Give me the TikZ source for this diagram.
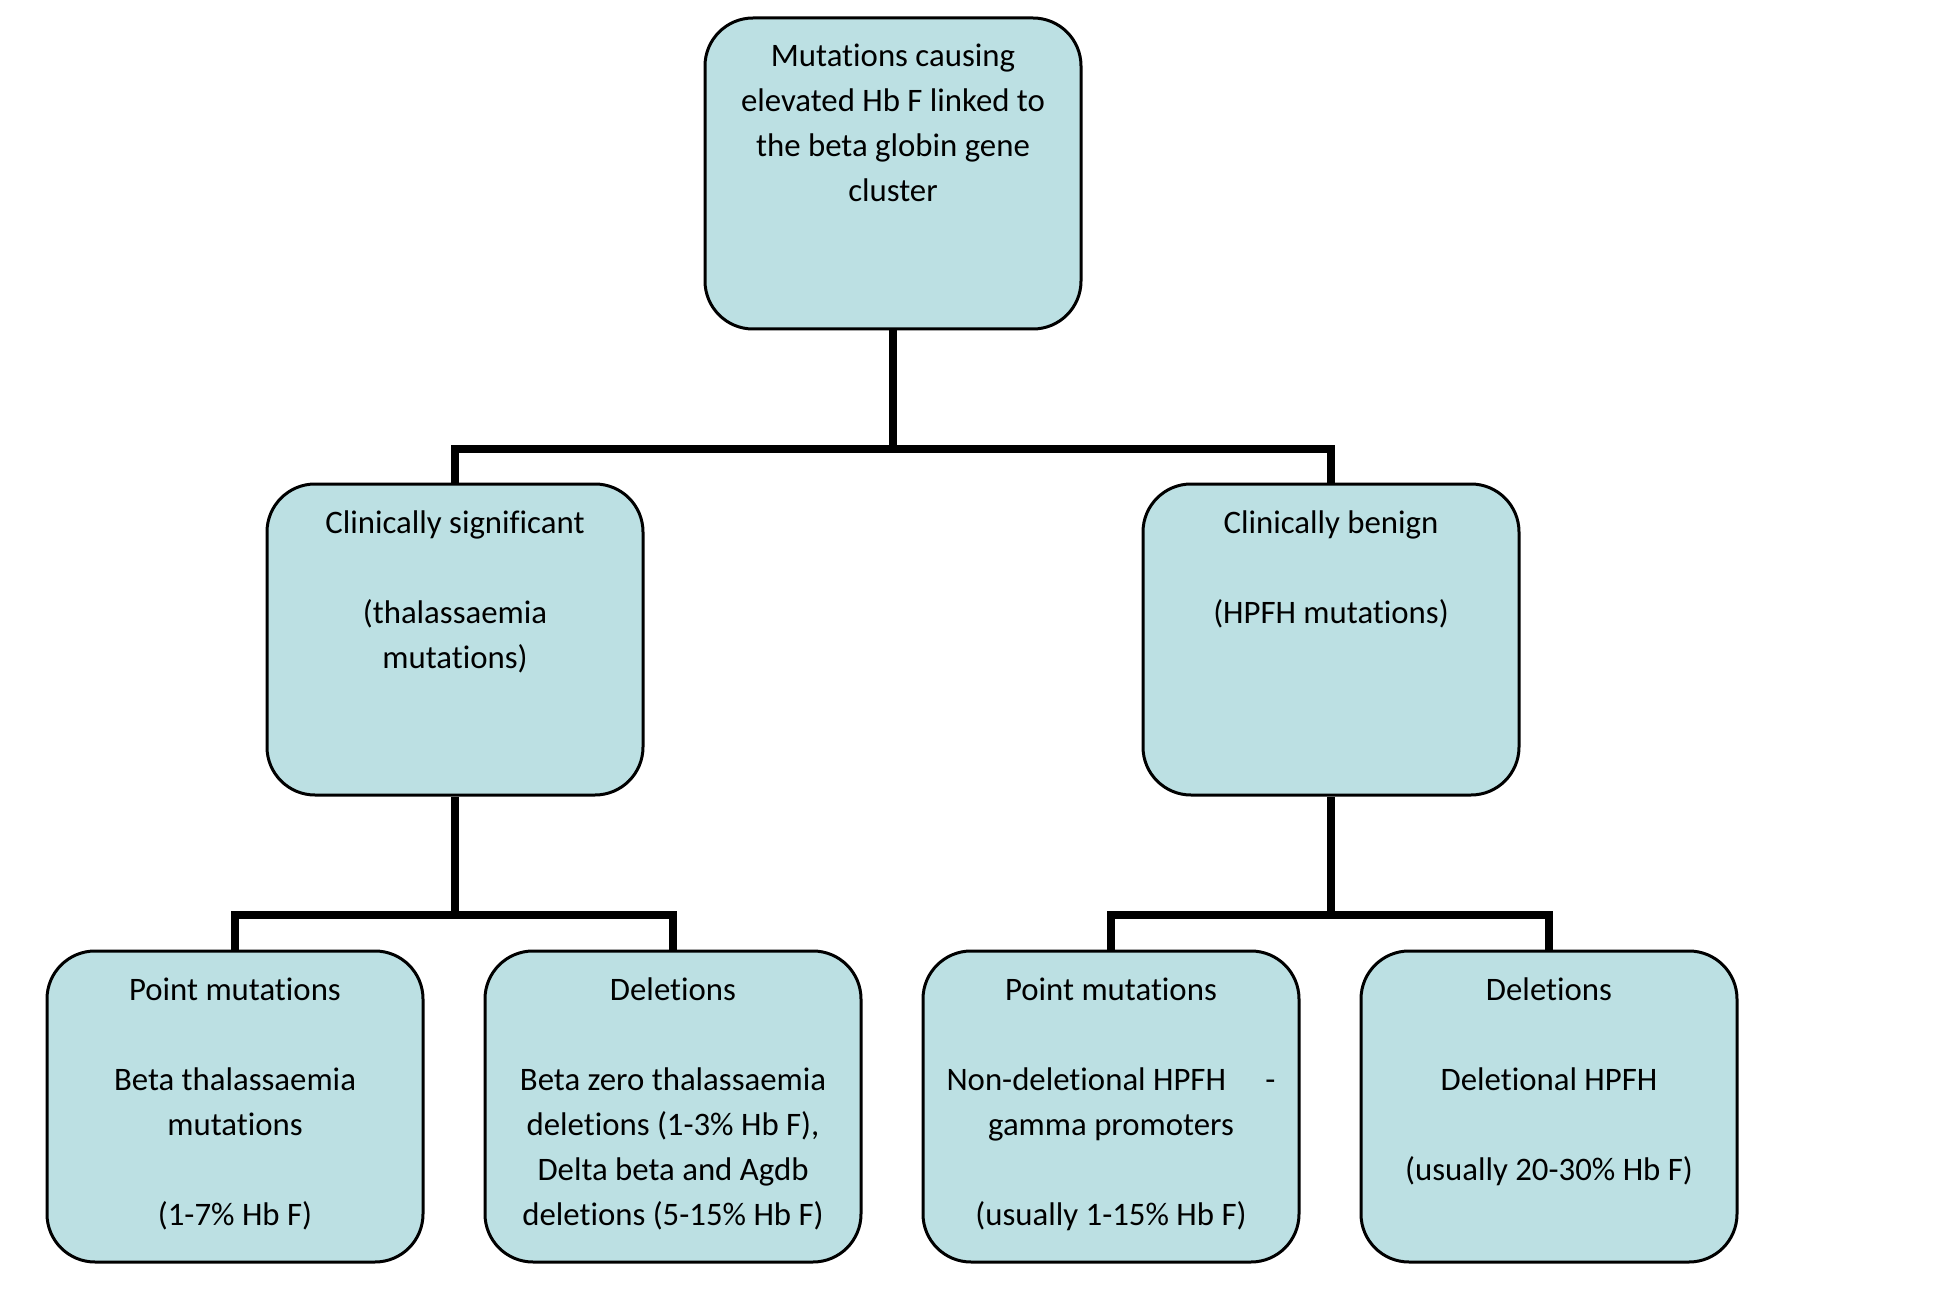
\documentclass[tikz,border=0pt]{standalone}
\usepackage{fontspec}
\setmainfont{Carlito}[Ligatures=NoCommon]
\usetikzlibrary{positioning}

\definecolor{boxfill}{RGB}{188,224,227}
\newcommand{\boxtext}[1]{\parbox[c][155.5pt][t]{188pt}{\centering\vspace*{8.75pt}\strut#1}}

\begin{document}
\begin{tikzpicture}[node distance=233pt and 219pt,on grid,
    box/.style={draw, fill=boxfill, line width=1.5pt, rounded corners=24pt, inner sep=0pt,
      minimum width=188pt, minimum height=155.5pt, font=\fontsize{16.4pt}{22.5pt}\selectfont},
    link/.style={line width=4pt}]
            \useasboundingbox (0,0) rectangle (977.5pt,-644.5pt);
            \node[box] (top) at (446.5pt,-86.75pt) {\boxtext{Mutations causing\\elevated Hb F linked to\\the beta globin gene\\cluster}};
            \node[box] (sig) [below left=of top] {\boxtext{Clinically significant\\[22.5pt](thalassaemia\\mutations)}};
            \node[box] (benign) [below right=of top] {\boxtext{Clinically benign\\[22.5pt](HPFH mutations)}};
            \node[box] (sigpoint) [below left=233.5pt and 110pt of sig] {\boxtext{Point mutations\\[22.5pt]Beta thalassaemia\\mutations\\[22.5pt](1-7\% Hb F)}};
            \node[box] (sigdel) [below right=233.5pt and 109pt of sig] {\boxtext{Deletions\\[22.5pt]Beta zero thalassaemia\\deletions (1-3\% Hb F),\\Delta beta and Agdb\\deletions (5-15\% Hb F)}};
            \node[box] (benpoint) [below left=233.5pt and 110pt of benign] {\boxtext{Point mutations\\[22.5pt]Non-deletional HPFH\hspace{1.2em}-\\gamma promoters\\[22.5pt](usually 1-15\% Hb F)}};
            \node[box] (bendel) [below right=233.5pt and 109pt of benign] {\boxtext{Deletions\\[22.5pt]Deletional HPFH\\[22.5pt](usually 20-30\% Hb F)}};
            \draw[link] (sig.north) -- ++(0,17pt) -| (top.south);
            \draw[link] (benign.north) -- ++(0,17pt) -| (top.south);
            \draw[link] (sigpoint.north) -- ++(0,17.5pt) -| (sig.south);
            \draw[link] (sigdel.north) -- ++(0,17.5pt) -| (sig.south);
            \draw[link] (benpoint.north) -- ++(0,17.5pt) -| (benign.south);
            \draw[link] (bendel.north) -- ++(0,17.5pt) -| (benign.south);
        \end{tikzpicture}
\end{document}
